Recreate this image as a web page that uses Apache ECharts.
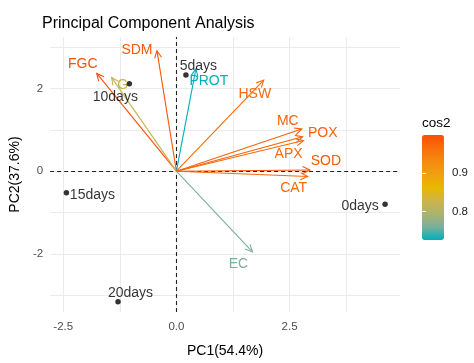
<!DOCTYPE html>
<html>
<head>
<meta charset="utf-8">
<script src="https://cdn.jsdelivr.net/npm/echarts@6/dist/echarts.min.js"></script>
<style>html,body{margin:0;padding:0;background:#fff}#c{width:474px;height:363px}</style>
</head>
<body>
<div id="c"></div>
<script>
// ---- data ----
const varNames = ['SDM','FGC','G','PROT','HSW','MC','POX','APX','SOD','CAT','EC'];
const varPC1   = [-0.43,-1.76,-1.43,0.43,1.93,2.77,2.79,2.81,2.95,2.90,1.68];
const varPC2   = [2.91, 2.36, 2.26, 2.47,2.20,1.02,0.83,0.74,0.03,-0.13,-1.95];
const varCos2  = [0.99, 1.00, 0.82, 0.726,0.97,0.98,0.98,0.97,0.99,0.97,0.76];
const indNames = ['0days','5days','10days','15days','20days'];
const indPC1   = [4.61, 0.21, -1.04, -2.43, -1.29];
const indPC2   = [-0.80, 2.32, 2.11, -0.52, -3.15];
const xTickLabels = [-2.5, 0, 2.5];
const xGridValues = [-2.5, -1.25, 0, 1.25, 2.5, 3.75];
const yTickLabels = [-2, 0, 2];
const yGridValues = [-3, -2, -1, 0, 1, 2, 3];
const cos2Range = [0.726, 1.0];
const cos2Ticks = [0.8, 0.9];

// ---- layout (label offsets in px, relative to mark) ----
const varLabelOffset = {SDM:[-20,-1],FGC:[-14,-9],G:[11,8],PROT:[13,12],HSW:[-9,14],MC:[-14,-8],POX:[20,-4],APX:[-15,14],SOD:[16,-9],CAT:[-14,12],EC:[-14,12]};
const indLabelOffset = {'0days':[-25,1.5],'5days':[12.5,-9],'10days':[-14,13],'15days':[26,2],'20days':[12.5,-9]};

const FONT = 'Liberation Sans, Arial, Helvetica, sans-serif';
const varData = varNames.map((n,i)=>[varPC1[i], varPC2[i], varCos2[i], n]);
const indData = indNames.map((n,i)=>({name:n, value:[indPC1[i], indPC2[i]],
  label:{offset: indLabelOffset[n]}}));

const chart = echarts.init(document.getElementById('c'), null, {renderer:'canvas'});
chart.setOption({
  backgroundColor:'#fff',
  animation:false,
  textStyle:{fontFamily:FONT},
  title:[
    {text:'Principal Component Analysis', left:42, top:16, padding:0,
     textStyle:{fontSize:16, fontWeight:'normal', color:'#000', fontFamily:FONT}},
    {text:'cos2', left:422, top:116, padding:0,
     textStyle:{fontSize:13.5, fontWeight:'normal', color:'#000', fontFamily:FONT}}
  ],
  grid:[
    {left:40, top:37, width:360, height:282},
    {left:422, top:135, width:22, height:105}
  ],
  xAxis:[
    {type:'value', gridIndex:0, min:-2.79, max:4.94,
     name:'PC1(54.4%)', nameLocation:'middle', nameGap:32,
     nameTextStyle:{fontSize:14, color:'#000', fontFamily:FONT},
     axisLine:{show:false},
     axisTick:{show:false, customValues:xGridValues},
     axisLabel:{customValues:xTickLabels, formatter:v=>Number(v).toFixed(1), color:'#4d4d4d', fontSize:11.5, margin:9, fontFamily:FONT},
     splitLine:{show:true, lineStyle:{color:'#ebebeb', width:1}}},
    {type:'value', gridIndex:1, show:false, min:0, max:1}
  ],
  yAxis:[
    {type:'value', gridIndex:0, min:-3.4, max:3.24,
     name:'PC2(37.6%)', nameLocation:'middle', nameGap:25, nameRotate:90,
     nameTextStyle:{fontSize:14, color:'#000', fontFamily:FONT},
     axisLine:{show:false},
     axisTick:{show:false, customValues:yGridValues},
     axisLabel:{customValues:yTickLabels, formatter:v=>String(Math.round(v)), color:'#4d4d4d', fontSize:11.5, margin:7, fontFamily:FONT},
     splitLine:{show:true, lineStyle:{color:'#ebebeb', width:1}}},
    {type:'value', gridIndex:1, min:cos2Range[0], max:cos2Range[1], position:'right', z:10,
     axisLine:{show:false},
     axisTick:{show:true, inside:true, length:4, lineStyle:{color:'#fff', width:1}, customValues:cos2Ticks},
     axisLabel:{customValues:cos2Ticks, formatter:v=>Number(v).toFixed(1), color:'#222', fontSize:11.5, margin:8, fontFamily:FONT},
     splitLine:{show:false}},
    {type:'value', gridIndex:1, min:cos2Range[0], max:cos2Range[1], position:'left', z:10,
     axisLine:{show:false},
     axisTick:{show:true, inside:true, length:4, lineStyle:{color:'#fff', width:1}, customValues:cos2Ticks},
     axisLabel:{show:false}, splitLine:{show:false}}
  ],
  visualMap:{
    type:'continuous', min:cos2Range[0], max:cos2Range[1], dimension:2, seriesIndex:1,
    orient:'vertical', left:422, top:135, itemWidth:22, itemHeight:105, padding:0,
    calculable:false, hoverLink:false, showLabel:false,
    inRange:{color:['#00AFBB','#7AB09C','#ACB36D','#CEB44A','#E7B800','#F0A010','#F58A10','#F86E0A','#FC4E07']}
  },
  series:[
    {type:'scatter', xAxisIndex:0, yAxisIndex:0, z:3, symbolSize:5.5,
     itemStyle:{color:'#000'},
     data:indData,
     label:{show:true, position:'inside', formatter:'{b}', color:'#000', fontSize:14, fontFamily:FONT},
     markLine:{silent:true, symbol:'none', z:1, label:{show:false},
       lineStyle:{color:'#222', type:[4,3], width:1.1},
       data:[{xAxis:0},{yAxis:0}]}},
    {type:'custom', xAxisIndex:0, yAxisIndex:0, z:2,
     encode:{x:0, y:1},
     data:varData,
     renderItem:function(params, api){
       const x = api.value(0), y = api.value(1);
       const name = varNames[params.dataIndex];
       const o = api.coord([0,0]), t = api.coord([x,y]);
       const color = api.visual('color');
       const ang = Math.atan2(t[1]-o[1], t[0]-o[0]);
       const L = 8, a = Math.PI/7;
       const h1 = [t[0]-L*Math.cos(ang-a), t[1]-L*Math.sin(ang-a)];
       const h2 = [t[0]-L*Math.cos(ang+a), t[1]-L*Math.sin(ang+a)];
       const off = varLabelOffset[name];
       return {type:'group', children:[
         {type:'line', shape:{x1:o[0],y1:o[1],x2:t[0],y2:t[1]}, style:{stroke:color, lineWidth:1.1}},
         {type:'polyline', shape:{points:[h1,t,h2]}, style:{stroke:color, lineWidth:1.1, fill:null}},
         {type:'text', x:t[0]+off[0], y:t[1]+off[1],
          style:{text:name, fill:color, font:'14px '+FONT, align:'center', verticalAlign:'middle'}}
       ]};
     }}
  ]
});
</script>
</body>
</html>
